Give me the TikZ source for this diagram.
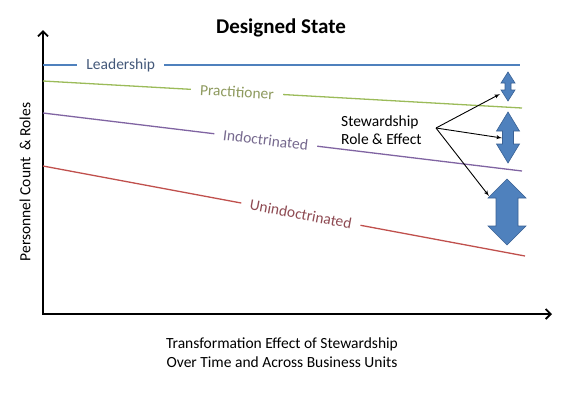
\documentclass[tikz,border=0pt]{standalone}
\usepackage{fontspec}
\setmainfont{Carlito}
\usetikzlibrary{arrows}
\usetikzlibrary{arrows.meta}
\definecolor{leadline}{HTML}{4F81BD}
\definecolor{leadtext}{HTML}{44597A}
\definecolor{pracline}{HTML}{9BBB59}
\definecolor{practext}{HTML}{8E9A5E}
\definecolor{indline}{HTML}{8064A2}
\definecolor{indtext}{HTML}{76698E}
\definecolor{unline}{HTML}{C0504D}
\definecolor{untext}{HTML}{8E4A52}
\definecolor{blockfill}{HTML}{4F81BD}
\definecolor{blockedge}{HTML}{3A6194}
\tikzset{
	axis/.style={line width=1.8pt, {Straight Barb[length=5pt,width=10pt]}-{Straight Barb[length=5pt,width=10pt]}},
	role/.style={line width=1.3pt},
	rolelabel/.style={sloped, fill=white, inner xsep=9pt, inner ysep=1pt, font=\fontsize{15.5}{18}\selectfont},
	pointer/.style={->, >=latex', line width=0.9pt},
	blockarrow/.style={fill=blockfill, draw=blockedge, line width=0.6pt}
}
% double block arrow: centre x, top y, bottom y, head half width, shaft half width, head height
\newcommand{\dblblock}[6]{
	\fill[blockarrow] (#1,#2) -- ({#1+#4},{#2+#6}) -- ({#1+#5},{#2+#6}) -- ({#1+#5},{#3-#6})
	-- ({#1+#4},{#3-#6}) -- (#1,#3) -- ({#1-#4},{#3-#6}) -- ({#1-#5},{#3-#6})
	-- ({#1-#5},{#2+#6}) -- ({#1-#4},{#2+#6}) -- cycle;
}

\begin{document}
\begin{tikzpicture}[x=1pt, y=-1pt]
\useasboundingbox (0,0) rectangle (567,400);

\node[font=\fontsize{21}{24}\selectfont\bfseries] (title) at (281,28) {Designed State};

% axes
\coordinate (O) at (43,314);
\coordinate (ytop) at (43,30);
\coordinate (xend) at (552,314);
\draw[axis] (ytop) -- (O) -- (xend);
\node[rotate=90, font=\fontsize{15.5}{18}\selectfont] (ylabel) at (25,182) {Personnel Count~~\& Roles};
\node[align=center, font=\fontsize{15.5}{19}\selectfont] (xlabel) at (282,353) {Transformation Effect of Stewardship\\Over Time and Across Business Units};

% role lines
\draw[role, leadline] (43,65) -- node[rolelabel, pos=.163, text=leadtext] (lead) {Leadership} (520,65);
\draw[role, pracline] (43,81) -- node[rolelabel, pos=.405, text=practext] (prac) {Practitioner} (522,108);
\draw[role, indline] (43,113) -- node[rolelabel, pos=.465, text=indtext] (ind) {Indoctrinated} (522,171);
\draw[role, unline] (43,166) -- node[rolelabel, pos=.535, text=untext] (unind) {Unindoctrinated} (525,256);

% block arrows
\dblblock{508}{72}{101}{7}{3}{11}
\dblblock{508}{112}{163}{11.5}{5.5}{19}
\dblblock{507}{179}{245}{19}{11}{19}

% stewardship
\node[align=left, anchor=west, inner sep=0pt, font=\fontsize{15.5}{18}\selectfont] (stew) at (341,130) {Stewardship\\Role \& Effect};
\coordinate (hub) at (436,128);
\coordinate (tipS) at (500,94);
\coordinate (tipM) at (502,138);
\coordinate (tipL) at (489,196);
\draw[pointer] (hub) to (tipS);
\draw[pointer] (hub) to (tipM);
\draw[pointer] (hub) to (tipL);
\end{tikzpicture}
\end{document}
